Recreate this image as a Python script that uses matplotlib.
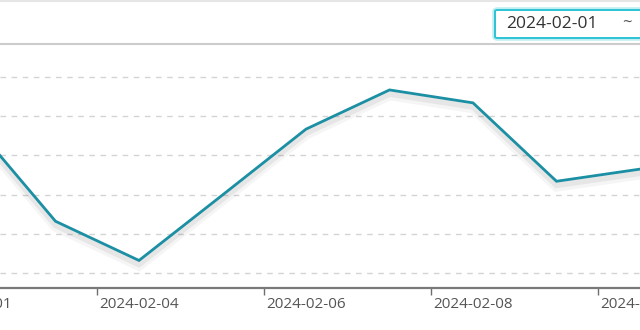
import matplotlib.pyplot as plt
import matplotlib.patheffects as pe
from matplotlib.lines import Line2D
from matplotlib.patches import FancyBboxPatch

plt.rcParams['font.family'] = ['Open Sans', 'DejaVu Sans']

# data (category axis, every other label shown)
dates = ["2024-02-01", "2024-02-03", "2024-02-04", "2024-02-05", "2024-02-06",
         "2024-02-07", "2024-02-08", "2024-02-09", "2024-02-10"]
values = [38.4, 13.2, 3.2, 19.9, 36.7, 46.7, 43.4, 23.4, 26.5]
grid_values = [0, 10, 20, 30, 40, 50]
start_date = "2024-02-01"

W, H = 640, 330
fig = plt.figure(figsize=(W / 100, H / 100), dpi=100)
fig.patch.set_facecolor("white")

# axes spans the full width; the chart is cut off on both sides
ax = fig.add_axes([0, (H - 288) / H, 1, 238 / H])
idx = list(range(len(dates)))
line_color = "#1b8fa3"
ax.plot(idx, values, color=line_color, lw=2, solid_joinstyle="miter",
        path_effects=[pe.SimpleLineShadow(offset=(0, -4), shadow_color="black", alpha=0.04, linewidth=7),
                      pe.SimpleLineShadow(offset=(0, -3), shadow_color="black", alpha=0.06, linewidth=4),
                      pe.Normal()], zorder=3)

ax.set_yticks(grid_values)
ax.tick_params(axis="y", left=False, labelleft=False)
ax.grid(axis="y", color="#d4d4d4", linestyle=(0, (4, 4)), lw=1)

# ticks on category boundaries, labels centred on categories
label_idx = idx[::2]
ax.set_xticks([i - 0.5 for i in label_idx])
ax.tick_params(axis="x", which="major", length=5, width=1, color="#6e6e6e", labelbottom=False)
ax.set_xticks([], minor=True)
for i in label_idx:
    ax.annotate(dates[i], xy=(i, 0), xycoords=("data", "axes fraction"),
                xytext=(0, -6.5), textcoords="offset points", ha="center", va="top",
                fontsize=11, color="#555555", annotation_clip=False)

# limits after ticks so set_xticks does not widen them
ax.set_xlim(28 / 83.5, 28 / 83.5 + W / 83.5)
ax.set_ylim(-15 / 3.92, 223 / 3.92)

for s in ["left", "right", "top"]:
    ax.spines[s].set_visible(False)
ax.spines["bottom"].set_color("#7a7a7a")
ax.spines["bottom"].set_linewidth(1.6)

# header lines
fig.add_artist(Line2D([0, 1], [(H - 1) / H] * 2, color="#e6e6e6", lw=1.5))
fig.add_artist(Line2D([0, 1], [(H - 44) / H] * 2, color="#cccccc", lw=1.5))

# date picker box (cut off at the right)
bx, by, bw, bh = 495 / W, (H - 38) / H, 170 / W, 28 / H
fig.add_artist(FancyBboxPatch((bx, by), bw, bh, boxstyle="round,pad=0,rounding_size=0.004",
                              transform=fig.transFigure, facecolor="white",
                              edgecolor="#bfeef3", lw=4))
fig.add_artist(FancyBboxPatch((bx, by), bw, bh, boxstyle="round,pad=0,rounding_size=0.004",
                              transform=fig.transFigure, facecolor="white",
                              edgecolor="#2cc3d4", lw=1.4))
fig.text(506 / W, (H - 24) / H, start_date, fontsize=12.5, color="#333333", va="center", ha="left")
fig.text(627 / W, (H - 24) / H, "~", fontsize=12, color="#555555", va="center", ha="center")

fig.savefig("out.png", dpi=100, facecolor="white")
